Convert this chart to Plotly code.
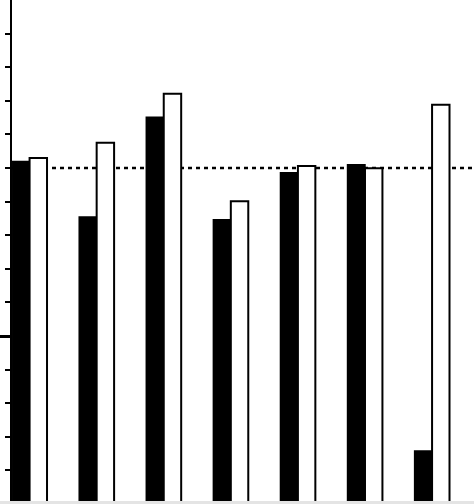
import plotly.graph_objects as go

# group positions along the x axis (no labels visible in the crop)
groups = [0, 1, 2, 3, 4, 5, 6]

# bar heights (dotted reference line = 1.0)
black_values = [1.019, 0.854, 1.151, 0.846, 0.986, 1.010, 0.158]
white_values = [1.030, 1.075, 1.221, 0.901, 1.006, 0.999, 1.188]

minor_ticks = [0.1, 0.2, 0.3, 0.4, 0.6, 0.7, 0.8, 0.9, 1.0, 1.1, 1.2, 1.3, 1.4]
major_ticks = [0.5]
reference_level = 1.0

bar_w = 0.26

fig = go.Figure()
fig.add_trace(go.Bar(
    x=groups, y=black_values, width=bar_w, offset=-bar_w,
    marker=dict(color="black", line=dict(color="black", width=1.5)),
    showlegend=False,
))
fig.add_trace(go.Bar(
    x=groups, y=white_values, width=bar_w, offset=0,
    marker=dict(color="white", line=dict(color="black", width=2)),
    showlegend=False,
))

# dotted reference line behind the bars
fig.add_shape(type="line", xref="paper", x0=0, x1=1, yref="y",
              y0=reference_level, y1=reference_level,
              line=dict(color="black", width=2.5, dash="4px,4px"), layer="below")

# thin grey strip at the very bottom of the crop
fig.add_shape(type="rect", xref="paper", yref="paper", x0=-0.03, x1=1,
              y0=0, y1=3 / 504, fillcolor="#e4e4e4", line=dict(width=0), layer="above")

fig.update_layout(
    width=474, height=504,
    margin=dict(l=12, r=0, t=0, b=0, autoexpand=False),
    plot_bgcolor="white", paper_bgcolor="white",
    barmode="overlay",
)
fig.update_xaxes(range=[-0.262, 6.625], showgrid=False, zeroline=False,
                 showline=False, showticklabels=False, ticks="", automargin=False)
fig.update_yaxes(range=[0, 1.5], showgrid=False, zeroline=False, automargin=False,
                 showline=True, linecolor="black", linewidth=2,
                 tickmode="array", tickvals=major_ticks, ticks="outside",
                 ticklen=12, tickwidth=2.5, tickcolor="black", showticklabels=False,
                 minor=dict(tickmode="array", tickvals=minor_ticks, ticks="outside",
                            ticklen=5, tickwidth=2, tickcolor="black"))

# drop the browser's default 8px body margin so the figure sits at the corner
fig.write_html("out.html", config={"displayModeBar": False},
               post_script="document.body.style.margin='0';")
